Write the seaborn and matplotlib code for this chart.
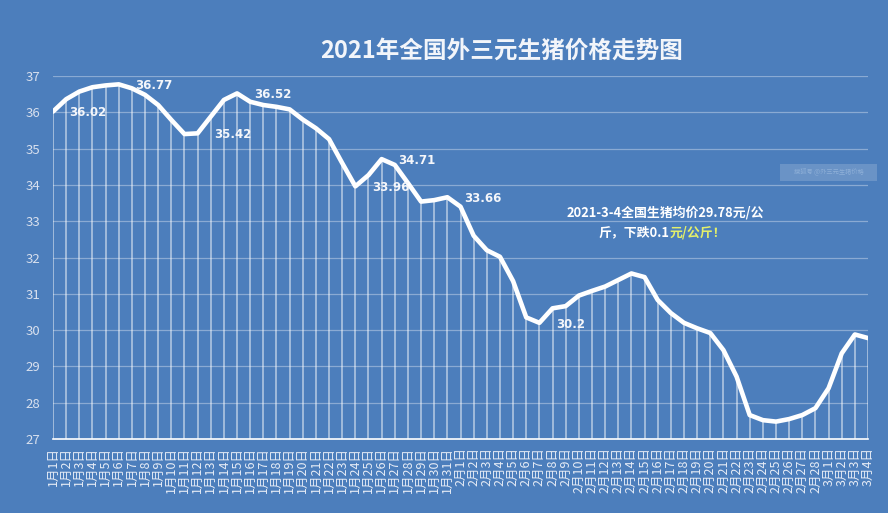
import matplotlib
matplotlib.use("Agg")
import matplotlib.pyplot as plt
import seaborn as sns
import pandas as pd

# ---- data ----
months = [1, 2, 3]
days_in_month = [31, 28, 4]
dates = [f"{m}月{d}日" for m, n in zip(months, days_in_month) for d in range(1, n + 1)]

prices_jan = [36.02, 36.36, 36.57, 36.69, 36.74, 36.77, 36.66, 36.48, 36.20, 35.79,
              35.40, 35.42, 35.88, 36.34, 36.52, 36.29, 36.20, 36.15, 36.08, 35.80,
              35.56, 35.26, 34.60, 33.96, 34.27, 34.71, 34.55, 34.05, 33.54, 33.58,
              33.66]
prices_feb = [33.40, 32.60, 32.20, 32.02, 31.35, 30.35, 30.20, 30.60, 30.66, 30.95,
              31.08, 31.20, 31.38, 31.56, 31.46, 30.83, 30.47, 30.20, 30.05, 29.92,
              29.45, 28.72, 27.66, 27.52, 27.48, 27.55, 27.66, 27.85]
prices_mar = [28.40, 29.36, 29.88, 29.78]
prices = prices_jan + prices_feb + prices_mar

labeled_points = [0, 5, 11, 14, 23, 25, 30, 37]
y_ticks = [27, 28, 29, 30, 31, 32, 33, 34, 35, 36, 37]

title = "2021年全国外三元生猪价格走势图"
note_line1 = "2021-3-4全国生猪均价29.78元/公"
note_line2a = "斤，下跌0.1"
note_line2b = "元/公斤！"

# ---- style ----
bg = "#4C7EBC"
sns.set_theme(style="white")
plt.rcParams["font.family"] = ["Noto Sans CJK SC", "DejaVu Sans"]

df = pd.DataFrame({"idx": range(len(prices)), "price": prices, "date": dates})

fig = plt.figure(figsize=(8.88, 5.13), dpi=100, facecolor=bg)
ax = fig.add_axes([0.0597, 0.1442, 0.9178, 0.7077])
ax.set_facecolor(bg)

# horizontal grid
for yv in y_ticks[1:]:
    ax.axhline(yv, color="white", alpha=0.35, lw=0.9, zorder=1)

# drop lines
ax.vlines(df["idx"], 27, df["price"], color="white", alpha=0.6, lw=1.1, zorder=2)

sns.lineplot(data=df, x="idx", y="price", ax=ax, color="white", lw=3.3, zorder=3)

for i in labeled_points:
    ax.annotate(f"{prices[i]:g}", (i, prices[i]), xytext=(12, -1), textcoords="offset points",
                color="#f4f6fa", fontsize=8.5, fontweight="bold", va="center", ha="left",
                family=["DejaVu Sans"], zorder=4)

ax.set_xlim(0, len(prices) - 1)
ax.set_ylim(27, 37)
ax.set_yticks(y_ticks)
ax.set_xticks(df["idx"])
ax.set_xticklabels(dates, rotation=90, fontsize=9, color="#e6ecf6")
ax.tick_params(axis="y", colors="#d8e0ee", labelsize=9.5, length=0, pad=9)
ax.tick_params(axis="x", colors="#e6ecf6", length=4, width=1, direction="out", pad=2)
ax.set_xlabel("")
ax.set_ylabel("")
for s in ["top", "right", "left"]:
    ax.spines[s].set_visible(False)
ax.spines["bottom"].set_color("white")
ax.spines["bottom"].set_linewidth(1.2)

fig.text(0.565, 0.902, title, ha="center", va="center", fontsize=17, fontweight="bold",
         color="#f2f5fa")

fig.text(0.749, 0.585, note_line1, ha="center", va="center", fontsize=9.3,
         fontweight="bold", color="white")
t1 = fig.text(0.674, 0.547, note_line2a, ha="left", va="center", fontsize=9.3,
              fontweight="bold", color="white")
fig.canvas.draw()
bb = t1.get_window_extent()
fig.text(bb.x1 / fig.bbox.width, 0.547, note_line2b, ha="left", va="center", fontsize=9.3,
         fontweight="bold", color="#E4F06A")

# faint watermark box
ax_wm = fig.add_axes([0.878, 0.648, 0.11, 0.033])
ax_wm.set_facecolor("#6a93c6")
ax_wm.set_xticks([]); ax_wm.set_yticks([])
for s in ax_wm.spines.values():
    s.set_visible(False)
ax_wm.text(0.5, 0.5, "搜狐号 @外三元生猪价格", ha="center", va="center", fontsize=4.5,
           color="#8fb0d8", transform=ax_wm.transAxes)

fig.savefig("out.png", dpi=100, facecolor=bg)
